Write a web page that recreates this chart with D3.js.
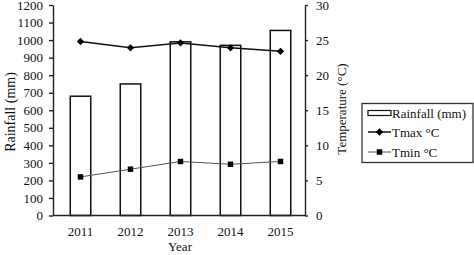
<!DOCTYPE html>
<html><head><meta charset="utf-8">
<script src="https://cdn.jsdelivr.net/npm/d3@7"></script>
<style>body{margin:0;background:#fff;}svg{display:block;font-family:"Liberation Serif","Times New Roman",serif;}</style>
</head><body><svg id="c" width="474" height="255"></svg>
<script>
const years = ["2011","2012","2013","2014","2015"];
const rainfall = [680, 750, 990, 970, 1055];
const tmax = [24.8, 23.9, 24.6, 23.9, 23.4];
const tmin = [5.5, 6.6, 7.7, 7.3, 7.7];
const rainTicks = [0,100,200,300,400,500,600,700,800,900,1000,1100,1200];
const tempTicks = [0,5,10,15,20,25,30];
const legendLabels = ["Rainfall (mm)", "Tmax °C", "Tmin °C"];

const svg = d3.select("#c");
const x = d3.scaleBand().domain(years).range([55.5, 305.5]).paddingInner(0.59).paddingOuter(0.295);
const yL = d3.scaleLinear().domain([0,1200]).range([215.5, 5]);
const yR = d3.scaleLinear().domain([0,30]).range([215.5, 5]);

// bars
svg.append("g").selectAll("rect").data(rainfall).join("rect")
  .attr("x", (d,i)=>x(years[i])).attr("width", x.bandwidth())
  .attr("y", d=>yL(d)).attr("height", d=>yL(0)-yL(d))
  .attr("fill","#fff").attr("stroke","#111").attr("stroke-width",1.5);

// left axis
const gL = svg.append("g").attr("transform","translate(53,0)")
  .call(d3.axisLeft(yL).tickValues(rainTicks).tickFormat(d3.format("d")).tickSize(4).tickPadding(6).tickSizeOuter(0));
// right axis
const gR = svg.append("g").attr("transform","translate(305,0)")
  .call(d3.axisRight(yR).tickValues(tempTicks).tickFormat(d3.format("d")).tickSize(3).tickPadding(8).tickSizeOuter(0));
// bottom axis
const gB = svg.append("g").attr("transform","translate(0,215.5)")
  .call(d3.axisBottom(x).tickSize(0).tickPadding(11));
gB.select(".domain").attr("d","M53,0H305");
[gL,gR,gB].forEach(g=>{
  g.attr("font-family","Liberation Serif");
  g.selectAll("path,line").attr("stroke","#222").attr("stroke-width",1.4);
  g.selectAll("text").attr("font-family","Liberation Serif").attr("font-size",13).attr("fill","#111");
});

// lines
const lineMax = d3.line().x((d,i)=>x(years[i])+x.bandwidth()/2).y(d=>yR(d));
svg.append("path").datum(tmax).attr("d",lineMax).attr("fill","none").attr("stroke","#111").attr("stroke-width",1.5);
svg.append("path").datum(tmin).attr("d",lineMax).attr("fill","none").attr("stroke","#555").attr("stroke-width",1);
const diamond = d3.symbol().type(d3.symbolDiamond2).size(34);
const square = d3.symbol().type(d3.symbolSquare).size(30);
svg.append("g").selectAll("path").data(tmax).join("path")
  .attr("d", diamond).attr("transform",(d,i)=>`translate(${x(years[i])+x.bandwidth()/2},${yR(d)})`).attr("fill","#000");
svg.append("g").selectAll("path").data(tmin).join("path")
  .attr("d", square).attr("transform",(d,i)=>`translate(${x(years[i])+x.bandwidth()/2},${yR(d)})`).attr("fill","#000");

// axis titles
svg.append("text").attr("transform","translate(15,112) rotate(-90)").attr("text-anchor","middle")
  .attr("font-size",14).attr("fill","#111").text("Rainfall (mm)");
svg.append("text").attr("transform","translate(346,109) rotate(-90)").attr("text-anchor","middle")
  .attr("font-size",13).attr("fill","#111").text("Temperature (°C)");
svg.append("text").attr("x",180).attr("y",251).attr("text-anchor","middle")
  .attr("font-size",13).attr("fill","#111").text("Year");

// legend
const lg = svg.append("g");
lg.append("rect").attr("x",362).attr("y",103.5).attr("width",111).attr("height",59).attr("fill","#fff").attr("stroke","#333").attr("stroke-width",1.3);
const ly = [113, 132, 152];
lg.append("rect").attr("x",368).attr("y",ly[0]-2.5).attr("width",23).attr("height",5).attr("fill","#fff").attr("stroke","#111").attr("stroke-width",1.2);
lg.append("line").attr("x1",368).attr("x2",391).attr("y1",ly[1]).attr("y2",ly[1]).attr("stroke","#111").attr("stroke-width",1.5);
lg.append("path").attr("d",diamond).attr("transform",`translate(379.5,${ly[1]})`).attr("fill","#000");
lg.append("line").attr("x1",368).attr("x2",391).attr("y1",ly[2]).attr("y2",ly[2]).attr("stroke","#555").attr("stroke-width",1);
lg.append("path").attr("d",square).attr("transform",`translate(379.5,${ly[2]})`).attr("fill","#000");
lg.selectAll("text.l").data(legendLabels).join("text").attr("class","l")
  .attr("x",392).attr("y",(d,i)=>ly[i]).attr("dy","0.35em").attr("font-size",13).attr("fill","#111").text(d=>d);
</script></body></html>
